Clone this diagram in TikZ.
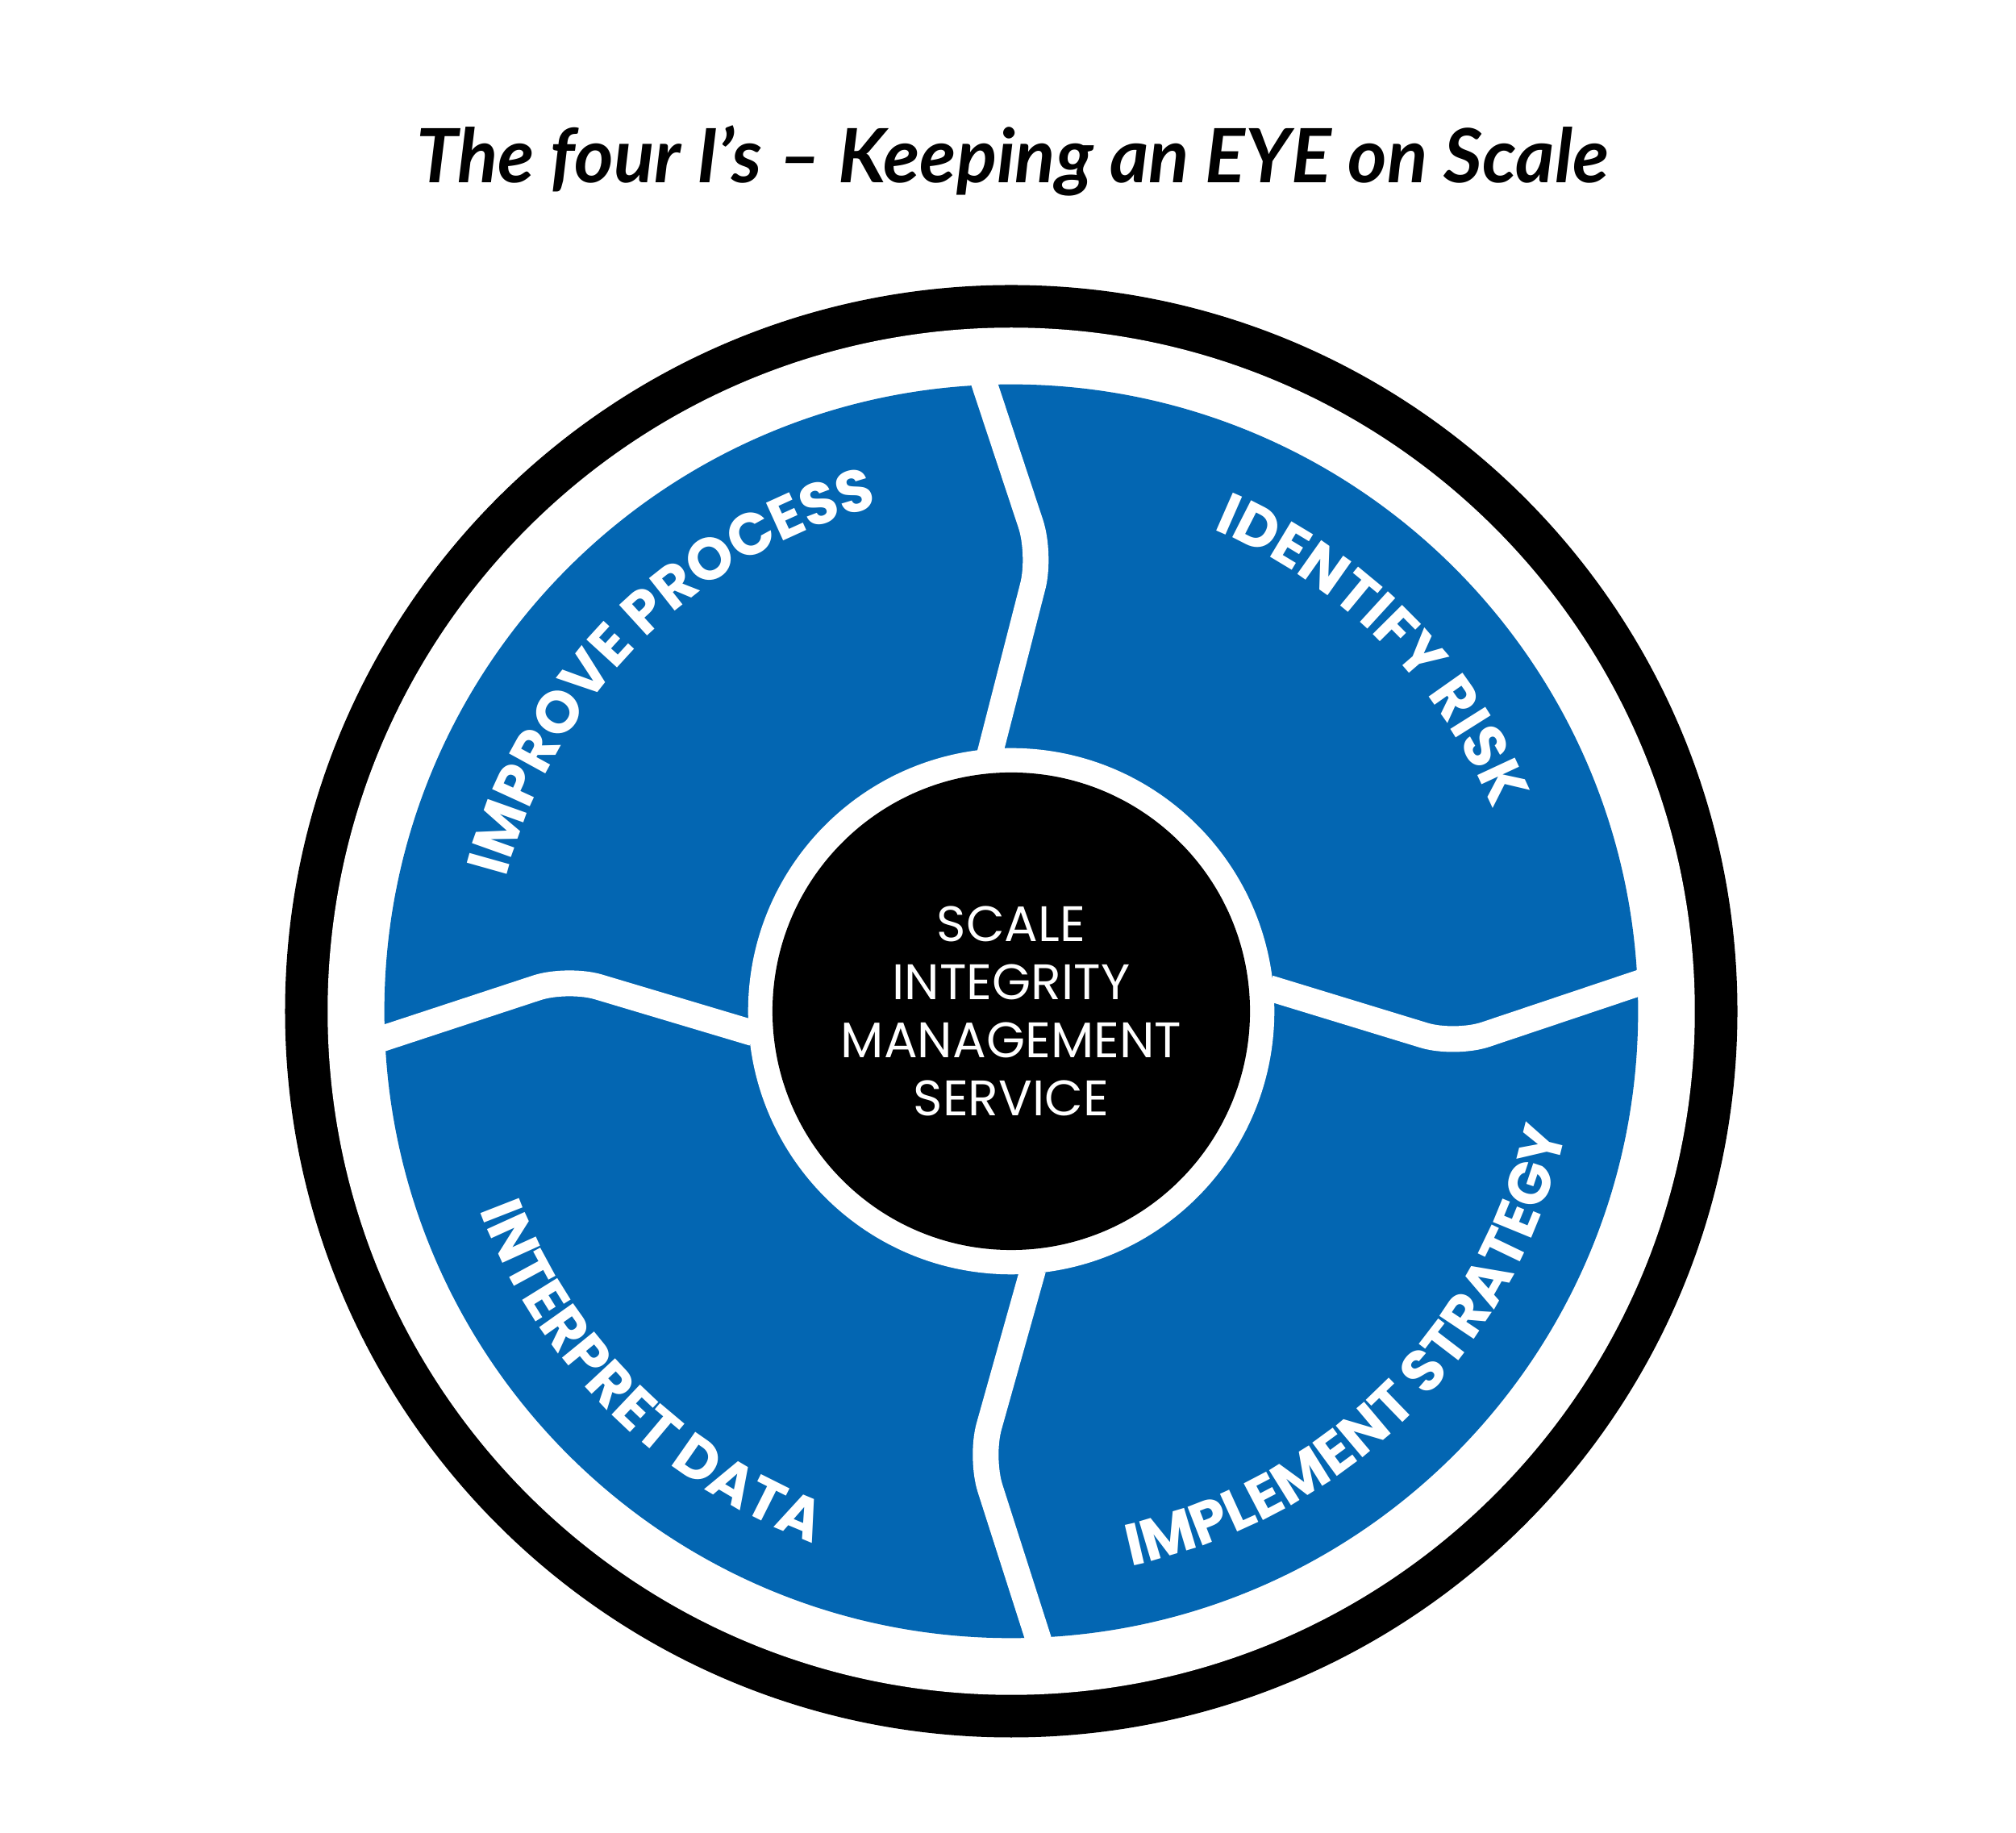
\documentclass[tikz,border=0pt]{standalone}
\usepackage{fontspec}
\newfontfamily\lab{Poppins}
\newfontfamily\ttl{Lato}
\usetikzlibrary{decorations.text}
\definecolor{segblue}{HTML}{0366B2}
\tikzset{divider/.style={white,line width=0.2cm,rounded corners=0.25cm},
 arclab/.style={decorate,decoration={text along path,text align=center,
 text format delimiters={[}{]},text={[\lab\bfseries\fontsize{13}{15}\selectfont\color{white}]#1}}}}
\begin{document}
\begin{tikzpicture}[x=0.01cm,y=0.01cm]
\useasboundingbox[fill=white] (0,0) rectangle (1563,1421);
\coordinate (C) at (784,637);
\node[font=\ttl\bfseries\itshape\fontsize{16.5}{20}\selectfont] (title) at (785,1296) {The four I’s – Keeping an EYE on Scale};
\fill[black] (C) circle[radius=563];
\fill[white] (C) circle[radius=530];
\fill[segblue] (C) circle[radius=486];
\fill[white] (C) circle[radius=204];
\node[circle,fill=black,minimum size=3.7cm,inner sep=0pt,align=center,text=white,
 font=\lab\fontsize{11}{12.8}\selectfont] (core) at (C) {SCALE\\INTEGRITY\\MANAGEMENT\\SERVICE};
\coordinate (t1) at (760,1133); \coordinate (t2) at (807,991); \coordinate (t3) at (767,835);
\coordinate (r1) at (1280,662); \coordinate (r2) at (1128,611); \coordinate (r3) at (984,655);
\coordinate (b1) at (808,141); \coordinate (b2) at (760,291); \coordinate (b3) at (801,437);
\coordinate (l1) at (288,613); \coordinate (l2) at (440,663); \coordinate (l3) at (584,620);
\draw[divider] (t1) -- (t2) -- (t3);
\draw[divider] (r1) -- (r2) -- (r3);
\draw[divider] (b1) -- (b2) -- (b3);
\draw[divider] (l1) -- (l2) -- (l3);
\path[arclab={IMPROVE PROCESS}] (C) ++(185:405) arc[start angle=185,end angle=85,radius=405];
\path[arclab={IDENTIFY RISK}] (C) ++(95:405) arc[start angle=95,end angle=-5,radius=405];
\path[arclab={INTERPRET DATA}] (C) ++(175:440) arc[start angle=175,end angle=275,radius=440];
\path[arclab={IMPLEMENT STRATEGY}] (C) ++(265:440) arc[start angle=265,end angle=365,radius=440];
\end{tikzpicture}
\end{document}
